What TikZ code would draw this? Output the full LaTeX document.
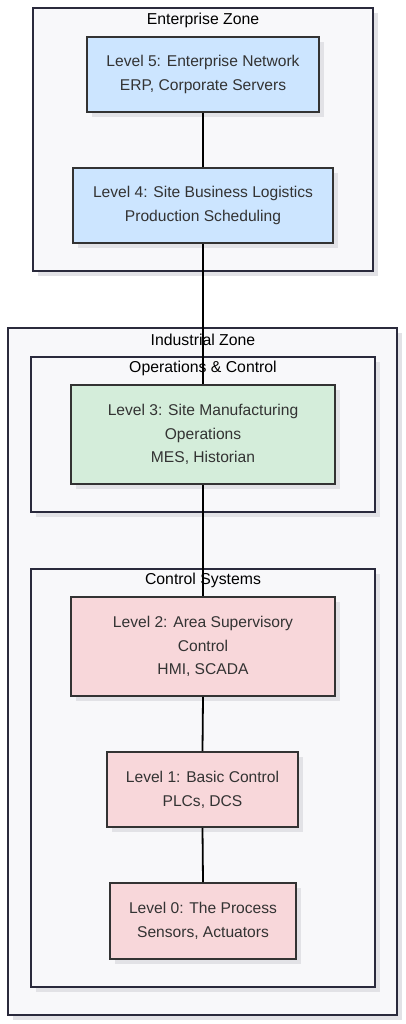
\documentclass[tikz,border=0pt]{standalone}
\usepackage{fontspec}
\setmainfont{Liberation Sans}
\definecolor{zonefill}{HTML}{F8F8FA}
\definecolor{zoneline}{HTML}{2A2A3C}
\definecolor{nodeline}{HTML}{333333}
\definecolor{bluefill}{HTML}{CCE5FF}
\definecolor{greenfill}{HTML}{D4EDDA}
\definecolor{pinkfill}{HTML}{F8D7DA}
\definecolor{shadowc}{HTML}{E2E2E6}
\definecolor{txt}{HTML}{333333}
\tikzset{
  zonebox/.style={draw=zoneline, fill=zonefill, line width=1.8pt},
  zonetitle/.style={font=\fontsize{15.8}{18}\selectfont, text=black, anchor=center, inner sep=0pt},
  lvl/.style={draw=nodeline, line width=1.8pt, rectangle, inner sep=0pt, align=center,
     font=\fontsize{15.6}{23.8}\selectfont, text=txt},
  conn/.style={draw=black, line width=1.8pt},
}
\begin{document}
\begin{tikzpicture}[x=1pt,y=-1pt]
\useasboundingbox (0,0) rectangle (406,1024);
% zones
\fill[shadowc] (38,13) rectangle (378,276);
\draw[zonebox] (33,8) rectangle (373,271);
\node[zonetitle] (ezt) at (203,20) {Enterprise Zone};
\fill[shadowc] (13,333) rectangle (402,1020);
\draw[zonebox] (8,328) rectangle (397,1015);
\node[zonetitle] (izt) at (203,340) {Industrial Zone};
\fill[shadowc] (36,362) rectangle (380,517);
\draw[zonebox] (31,357) rectangle (375,512);
\node[zonetitle] (oct) at (203,368) {Operations \& Control};
\fill[shadowc] (36,574) rectangle (380,992);
\draw[zonebox] (31,569) rectangle (375,987);
\node[zonetitle] (cst) at (203,580) {Control Systems};
% node geometry (coordinates)
\coordinate (l5a) at (87,37);  \coordinate (l5b) at (319,112);
\coordinate (l4a) at (73,168); \coordinate (l4b) at (333,243);
\coordinate (l3a) at (71,385); \coordinate (l3b) at (335,484);
\coordinate (l2a) at (71,597); \coordinate (l2b) at (335,696);
\coordinate (l1a) at (107,752);\coordinate (l1b) at (298,827);
\coordinate (l0a) at (110,883);\coordinate (l0b) at (296,959);
% shadows
\foreach \a/\b in {l5a/l5b,l4a/l4b,l3a/l3b,l2a/l2b,l1a/l1b,l0a/l0b}
  \fill[shadowc] ([shift={(5,5)}]\a) rectangle ([shift={(5,5)}]\b);
% nodes
\node[lvl, fill=bluefill, minimum width=232pt, minimum height=75pt] (L5) at (203,74.5)
  {Level 5: Enterprise Network\\ERP, Corporate Servers};
\node[lvl, fill=bluefill, minimum width=260pt, minimum height=75pt] (L4) at (203,205.5)
  {Level 4: Site Business Logistics\\Production Scheduling};
\node[lvl, fill=greenfill, minimum width=264pt, minimum height=99pt] (L3) at (203,434.5)
  {Level 3: Site Manufacturing\\Operations\\MES, Historian};
\node[lvl, fill=pinkfill, minimum width=264pt, minimum height=99pt] (L2) at (203,646.5)
  {Level 2: Area Supervisory\\Control\\HMI, SCADA};
\node[lvl, fill=pinkfill, minimum width=191pt, minimum height=75pt] (L1) at (202.5,789.5)
  {Level 1: Basic Control\\PLCs, DCS};
\node[lvl, fill=pinkfill, minimum width=186pt, minimum height=76pt] (L0) at (203,921)
  {Level 0: The Process\\Sensors, Actuators};
% connectors
\draw[conn] (L5.south) -- (L4.north);
\draw[conn] (L4.south) -- (L3.north);
\draw[conn] (L3.south) -- (L2.north);
\draw[conn] (L2.south) -- (L1.north);
\draw[conn] (L1.south) -- (L0.north);
\end{tikzpicture}
\end{document}
